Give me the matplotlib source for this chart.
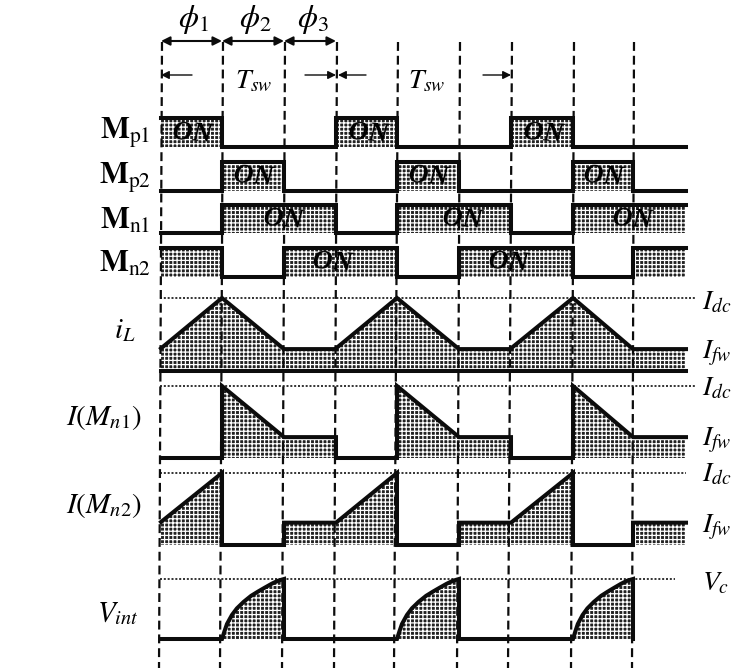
import numpy as np
import matplotlib
matplotlib.use('Agg')
import matplotlib.pyplot as plt

plt.rcParams['font.family'] = ['Liberation Serif', 'DejaVu Sans']
plt.rcParams['mathtext.fontset'] = 'stix'
plt.rcParams['hatch.linewidth'] = 0.9

# switching instants, pixels from the first edge
edges = [0, 61, 123, 175, 236, 298, 350, 412, 472, 525]

# logic rows, one level per phase
mp1_on = [1, 0, 0, 1, 0, 0, 1, 0, 0]
mp2_on = [0, 1, 0, 0, 1, 0, 0, 1, 0]
mn1_on = [0, 1, 1, 0, 1, 1, 0, 1, 1]
mn2_on = [1, 0, 1, 1, 0, 1, 1, 0, 1]

# analog rows, level at start and end of each phase
il_start = [0.31, 1, 0.3, 0.31, 1, 0.3, 0.31, 1, 0.3]
il_end = [1, 0.3, 0.3, 1, 0.3, 0.3, 1, 0.3, 0.3]
in1_start = [0, 1, 0.29, 0, 1, 0.29, 0, 1, 0.29]
in1_end = [0, 0.29, 0.29, 0, 0.29, 0.29, 0, 0.29, 0.29]
in2_start = [0.32, 0, 0.31, 0.31, 0, 0.31, 0.31, 0, 0.31]
in2_end = [1, 0, 0.31, 1, 0, 0.31, 1, 0, 0.31]

# integrator ramp, fraction of phase vs level
vint_frac = [0, 0.04, 0.08, 0.16, 0.24, 0.35, 0.47, 0.58, 0.68, 0.8, 0.9, 1]
vint_level = [0, 0.13, 0.25, 0.40, 0.51, 0.62, 0.72, 0.79, 0.85, 0.92, 0.97, 1]
vint_phases = [1, 4, 7]

row_names = ['$\\mathbf{M}_{\\mathrm{p1}}$', '$\\mathbf{M}_{\\mathrm{p2}}$',
             '$\\mathbf{M}_{\\mathrm{n1}}$', '$\\mathbf{M}_{\\mathrm{n2}}$']
on_labels = [(192, 134), (368, 134), (543, 134), (253, 177), (428, 177), (603, 177),
             (283, 220), (462, 220), (632, 220), (332, 263), (508, 263)]

X0 = 161
INK = '#0c0c0c'
LW = 2.9

fig = plt.figure(figsize=(7.55, 6.68), dpi=100)
ax = fig.add_axes([0, 0, 1, 1])
ax.set_xlim(0, 755)
ax.set_ylim(668, 0)
ax.axis('off')


def hatched(x, y, base):
    ax.fill_between(x, y, base, facecolor='#222222', edgecolor='white', hatch='++++',
                    linewidth=0, zorder=2)


def draw_steps(levels, top, base):
    x, y = [], []
    for i, lv in enumerate(levels):
        x += [X0 + edges[i], X0 + edges[i + 1]]
        y += [base - lv * (base - top)] * 2
    hatched(x, y, base)
    ax.plot(x, y, color=INK, lw=LW, solid_joinstyle='miter', zorder=4)


def draw_ramp(start, end, top, base, baseline=False):
    x, y = [], []
    for i in range(len(start)):
        x += [X0 + edges[i], X0 + edges[i + 1]]
        y += [base - start[i] * (base - top), base - end[i] * (base - top)]
    hatched(x, y, base)
    ax.plot(x, y, color=INK, lw=LW, solid_joinstyle='miter', zorder=4)
    if baseline:
        ax.plot([X0, X0 + edges[-1]], [base, base], color=INK, lw=LW, zorder=4)


# vertical phase guides lean a little, as on the scanned page
bottom_shift = [-3, -3, -3, -3, -4, -3, -4, -3, -2]
for i, e in enumerate(edges[:-1]):
    ax.plot([X0 + e + 1, X0 + e + 1 + bottom_shift[i]], [42, 668], color=INK, lw=1.6,
            dashes=(4, 2.2), zorder=5)

# dotted reference levels
for yy, xend in [(298, 695), (386, 695), (473, 686), (579, 675)]:
    ax.plot([160, xend], [yy, yy], color='#111111', lw=1.2, dashes=(1.2, 1.1), zorder=1)

draw_steps(mp1_on, 118, 147)
draw_steps(mp2_on, 162, 191)
draw_steps(mn1_on, 205, 233)
draw_steps(mn2_on, 248, 277)
draw_ramp(il_start, il_end, 298, 371, baseline=True)
draw_ramp(in1_start, in1_end, 386, 458)
draw_ramp(in2_start, in2_end, 473, 545)

# Vint: flat with three rising arcs, stops at the last edge
vx, vy = [X0], [639]
for p in range(8):
    a, b = X0 + edges[p], X0 + edges[p + 1]
    if p in vint_phases:
        sx = [a + f * (b - a) for f in vint_frac]
        sy = [639 - v * 60 for v in vint_level]
        hatched(sx, sy, 639)
        vx += sx + [b]
        vy += sy + [639]
    else:
        vx.append(b)
        vy.append(639)
ax.plot(vx, vy, color=INK, lw=LW, solid_joinstyle='miter', zorder=4)

for (lx, ly) in on_labels:
    ax.text(lx, ly, 'ON', fontsize=20, style='italic', weight='bold', color='black',
            ha='center', va='center', rotation=-4, zorder=6)

# row labels
for name, yy in zip(row_names, [133, 178, 221, 264]):
    ax.text(125, yy, name, fontsize=22, ha='center', va='center', color='black')

for txt, lx, ly in [('$i_L$', 125, 331), ('$I(M_{n\\mathit{1}})$', 104, 418),
                    ('$I(M_{n\\mathit{2}})$', 104, 505), ('$V_{int}$', 118, 614)]:
    ax.text(lx, ly, txt, fontsize=21, ha='center', va='center', color='black')

for txt, ly in [('$I_{dc}$', 303), ('$I_{fw}$', 353), ('$I_{dc}$', 389), ('$I_{fw}$', 440),
                ('$I_{dc}$', 475), ('$I_{fw}$', 527), ('$V_c$', 584)]:
    ax.text(702, ly, txt, fontsize=20, ha='left', va='center', color='black')

# phase arrows across the top
for a, b, lab, lx in [(0, 1, '$\\phi_{\\mathit{1}}$', 193), (1, 2, '$\\phi_{\\mathit{2}}$', 255),
                      (2, 3, '$\\phi_{\\mathit{3}}$', 313)]:
    ax.annotate('', xy=(X0 + edges[a], 41), xytext=(X0 + edges[b], 41),
                arrowprops=dict(arrowstyle='<|-|>', color=INK, lw=1.5, mutation_scale=13,
                                shrinkA=0, shrinkB=0))
    ax.text(lx, 20, lab, fontsize=23, ha='center', va='center', color='black')

# Tsw arrows point outward at both ends of the period
for tail, head in [(192, 161), (305, 336), (366, 338), (483, 511)]:
    ax.annotate('', xy=(head, 75), xytext=(tail, 75),
                arrowprops=dict(arrowstyle='-|>', color=INK, lw=1.0, mutation_scale=12,
                                shrinkA=0, shrinkB=0))
for lx in [254, 427]:
    ax.text(lx, 82, '$T_{sw}$', fontsize=20, ha='center', va='center', color='black')

fig.savefig('out.png', dpi=100)
